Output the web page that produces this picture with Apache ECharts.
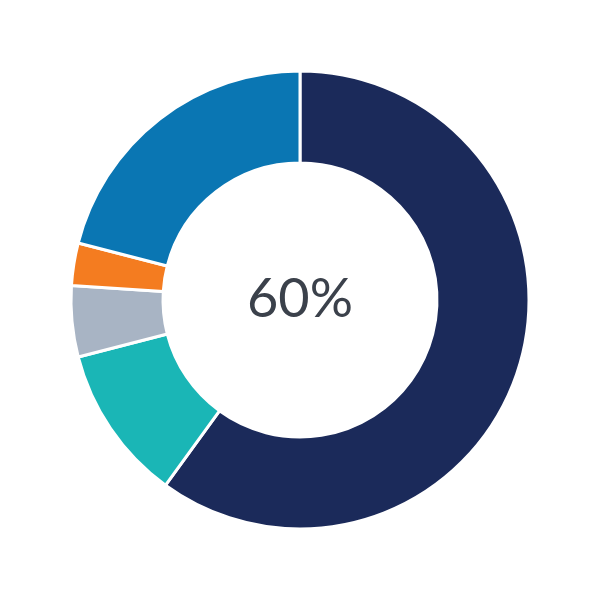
<!DOCTYPE html>
<html>
<head>
    <meta charset="UTF-8">
    <title>Donut</title>
    <script src="https://cdn.jsdelivr.net/npm/echarts@6/dist/echarts.min.js"></script>
    <style>
        html, body { margin: 0; padding: 0; background: #fff; }
    </style>
</head>
<body>
<div id="donut" style="width:600px; height:600px;"></div>
<script>
    // slices, clockwise from 12 o'clock
    var sliceNames = ['A', 'B', 'C', 'D', 'E'];
    var sliceValues = [60, 11, 5, 3, 21];
    var sliceColors = ['#1b2a5a', '#1ab6b6', '#a8b4c4', '#f47c20', '#0a76b3'];
    var centerLabel = '60%';

    var chart = echarts.init(document.getElementById('donut'), null, {renderer: 'canvas'});

    var data = sliceNames.map(function (n, i) {
        return {name: n, value: sliceValues[i], itemStyle: {color: sliceColors[i]}};
    });

    var option = {
        animation: false,
        title: {
            text: centerLabel,
            left: 'center',
            top: 'middle',
            textStyle: {
                fontFamily: 'Lato',
                fontSize: 54,
                fontWeight: 'normal',
                color: '#3b414b'
            }
        },
        series: [{
            type: 'pie',
            center: [300, 300],
            radius: [137, 229],
            startAngle: 90,
            clockwise: true,
            label: {show: false},
            labelLine: {show: false},
            itemStyle: {
                borderColor: '#fff',
                borderWidth: 3
            },
            emphasis: {disabled: true},
            data: data
        }]
    };
    chart.setOption(option);
</script>
</body>
</html>
